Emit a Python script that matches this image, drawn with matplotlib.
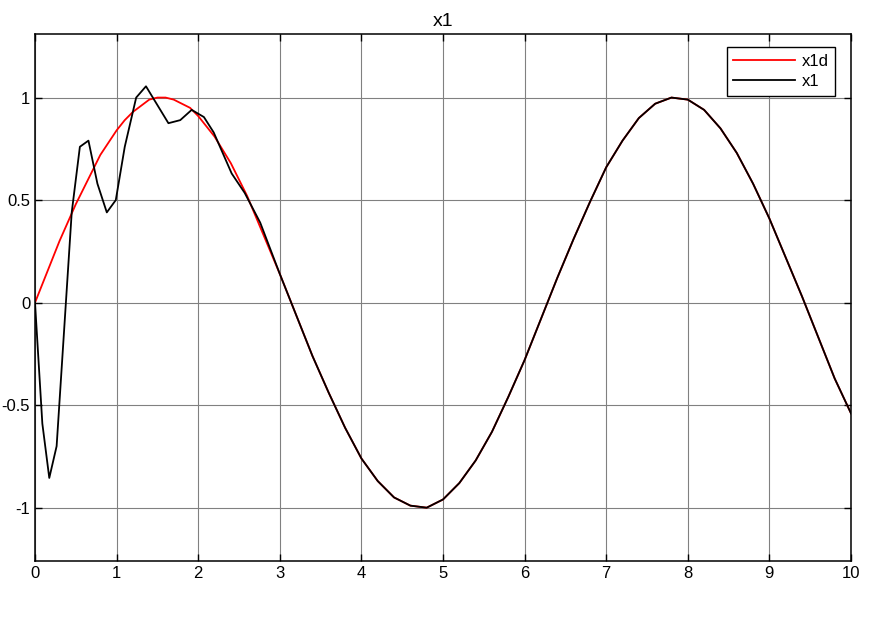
import matplotlib
matplotlib.use("Agg")
import matplotlib.pyplot as plt
from matplotlib.ticker import FuncFormatter

plt.rcParams['font.family'] = ['Liberation Sans', 'DejaVu Sans']

# desired signal x1d
t_ref = [0, 0.1, 0.2, 0.3, 0.4, 0.5, 0.6, 0.7, 0.8, 0.9, 1.0, 1.1, 1.2, 1.3, 1.4,
         1.5, 1.6, 1.7, 1.8, 1.9, 2.0, 2.2, 2.4, 2.6, 2.8, 3.0, 3.2, 3.4, 3.6, 3.8,
         4.0, 4.2, 4.4, 4.6, 4.8, 5.0, 5.2, 5.4, 5.6, 5.8, 6.0, 6.2, 6.4, 6.6, 6.8,
         7.0, 7.2, 7.4, 7.6, 7.8, 8.0, 8.2, 8.4, 8.6, 8.8, 9.0, 9.2, 9.4, 9.6, 9.8, 10.0]
x1d = [0, 0.10, 0.20, 0.30, 0.39, 0.48, 0.56, 0.64, 0.72, 0.78, 0.84, 0.89, 0.93, 0.96, 0.99,
       1.00, 1.00, 0.99, 0.97, 0.95, 0.91, 0.81, 0.68, 0.52, 0.33, 0.14, -0.06, -0.26, -0.44, -0.61,
       -0.76, -0.87, -0.95, -0.99, -1.00, -0.96, -0.88, -0.77, -0.63, -0.46, -0.28, -0.08, 0.12, 0.31, 0.49,
       0.66, 0.79, 0.90, 0.97, 1.00, 0.99, 0.94, 0.85, 0.73, 0.58, 0.41, 0.22, 0.03, -0.17, -0.37, -0.54]

# actual state x1
t_out = [0, 0.09, 0.175, 0.265, 0.45, 0.55, 0.655, 0.765, 0.88, 0.99, 1.10, 1.24, 1.36,
         1.635, 1.78, 1.92, 2.07, 2.19, 2.41, 2.57, 2.76, 3.0, 3.2, 3.4, 3.6, 3.8,
         4.0, 4.2, 4.4, 4.6, 4.8, 5.0, 5.2, 5.4, 5.6, 5.8, 6.0, 6.2, 6.4, 6.6, 6.8,
         7.0, 7.2, 7.4, 7.6, 7.8, 8.0, 8.2, 8.4, 8.6, 8.8, 9.0, 9.2, 9.4, 9.6, 9.8, 10.0]
x1 = [0, -0.59, -0.855, -0.70, 0.44, 0.76, 0.79, 0.58, 0.44, 0.50, 0.76, 1.00, 1.055,
      0.875, 0.89, 0.94, 0.905, 0.83, 0.63, 0.535, 0.39, 0.14, -0.06, -0.26, -0.44, -0.61,
      -0.76, -0.87, -0.95, -0.99, -1.00, -0.96, -0.88, -0.77, -0.63, -0.46, -0.28, -0.08, 0.12, 0.31, 0.49,
      0.66, 0.79, 0.90, 0.97, 1.00, 0.99, 0.94, 0.85, 0.73, 0.58, 0.41, 0.22, 0.03, -0.17, -0.37, -0.54]

fig = plt.figure(figsize=(8.75, 6.19), dpi=100)
ax = fig.add_axes([35 / 875, 58 / 619, 816 / 875, 527 / 619])

ax.plot(t_ref, x1d, color='red', linewidth=1.3, label='x1d')
ax.plot(t_out, x1, color='black', linewidth=1.3, label='x1')

ax.set_xlim(0, 10)
ax.set_ylim(-1.26, 1.31)
ax.set_xticks(range(0, 11))
ax.set_yticks([-1, -0.5, 0, 0.5, 1])
ax.yaxis.set_major_formatter(FuncFormatter(lambda v, p: ('%g' % v).replace('\u2212', '-')))
ax.tick_params(direction='in', top=True, right=True, labelsize=12, length=5, width=1)
ax.grid(True, color='#808080', linewidth=0.8)
for s in ax.spines.values():
    s.set_linewidth(1.1)

ax.set_title('x1', fontsize=14, pad=6)

# legend box sits at the top right corner, just inside the frame
leg = ax.legend(loc='upper right', fontsize=12, fancybox=False, framealpha=1,
                edgecolor='black', handlelength=3.7, borderpad=0.4,
                labelspacing=0.3, handletextpad=0.4, borderaxespad=0,
                bbox_to_anchor=(0.981, 0.975))
leg.get_frame().set_linewidth(1.0)

fig.savefig('out.png', dpi=100)
